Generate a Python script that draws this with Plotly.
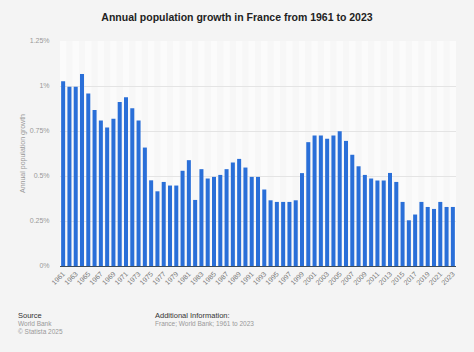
import plotly.graph_objects as go

years = list(range(1961, 2024))
growth = [1.027, 0.996, 0.996, 1.066, 0.959, 0.866, 0.809, 0.770, 0.818, 0.911,
          0.937, 0.877, 0.809, 0.658, 0.476, 0.415, 0.467, 0.447, 0.447, 0.529,
          0.588, 0.367, 0.538, 0.486, 0.495, 0.506, 0.538, 0.575, 0.595, 0.547,
          0.495, 0.495, 0.425, 0.365, 0.356, 0.356, 0.356, 0.365, 0.516, 0.688,
          0.725, 0.725, 0.707, 0.725, 0.749, 0.695, 0.618, 0.554, 0.506, 0.486,
          0.475, 0.475, 0.517, 0.467, 0.356, 0.254, 0.286, 0.356, 0.328, 0.317,
          0.356, 0.328, 0.328]
y_tickvals = [0, 0.25, 0.5, 0.75, 1.0, 1.25]
y_ticktext = ["0%", "0.25%", "0.5%", "0.75%", "1%", "1.25%"]
x_ticks = [str(y) for y in years[::2]]

FONT = "Liberation Sans, Arial, sans-serif"

fig = go.Figure()
fig.add_trace(go.Bar(
    x=[str(y) for y in years], y=growth,
    marker=dict(color="#2a6fd8", line=dict(width=0)),
    hovertemplate="%{x}: %{y:.2f}%<extra></extra>",
))

# alternating vertical background stripes
shapes = []
for i, yr in enumerate(years):
    if i % 2 == 0:
        shapes.append(dict(type="rect", xref="x", yref="paper",
                           x0=i - 0.5, x1=i + 0.5, y0=0, y1=1,
                           fillcolor="#ffffff", opacity=0.55, line=dict(width=0),
                           layer="below"))

L, R, T, B = 60, 18, 41, 86
W = 474 - L - R
H = 352 - T - B

def to_paper(xpix, ypix):
    return (xpix - L) / W, (352 - B - ypix) / H

ann = []
for text, xpix, ypix, color, size in [
    ("Source", 16, 315, "#333333", 7.5),
    ("World Bank", 16, 323.5, "#999999", 6.5),
    ("© Statista 2025", 16, 331.5, "#999999", 6.5),
    ("Additional Information:", 153, 315, "#333333", 7.5),
    ("France; World Bank; 1961 to 2023", 153, 323.5, "#999999", 6.5),
]:
    xp, yp = to_paper(xpix, ypix)
    ann.append(dict(text=text, x=xp, y=yp, xref="paper", yref="paper",
                    xanchor="left", yanchor="middle", showarrow=False,
                    font=dict(family=FONT, size=size, color=color)))

fig.update_layout(
    width=474, height=352,
    margin=dict(l=L, r=R, t=T, b=B),
    paper_bgcolor="#f4f4f4",
    plot_bgcolor="#f7f7f7",
    bargap=0.36,
    showlegend=False,
    shapes=shapes,
    annotations=ann,
    title=dict(text="<b>Annual population growth in France from 1961 to 2023</b>",
               x=0.5, xanchor="center", y=0.952, yanchor="middle",
               font=dict(family=FONT, size=10.5, color="#222222")),
    font=dict(family=FONT, size=7, color="#777777"),
    xaxis=dict(
        type="category", tickmode="array", tickvals=x_ticks, ticktext=x_ticks,
        tickangle=-45, tickfont=dict(size=7, color="#777777"),
        showgrid=False, showline=True, linecolor="#3a4a5a", linewidth=1,
        range=[-0.5, len(years) - 0.5], ticks="", fixedrange=True,
    ),
    yaxis=dict(
        range=[0, 1.25], tickvals=y_tickvals, ticktext=y_ticktext,
        tickfont=dict(size=7, color="#999999"),
        showgrid=True, gridcolor="#e4e4e4", gridwidth=1,
        zeroline=False, ticks="outside", ticklen=8, tickcolor="rgba(0,0,0,0)",
        title=dict(text="Annual population growth", font=dict(size=7, color="#999999"),
                   standoff=3),
    ),
)

fig.write_html("out.html", config={"displayModeBar": False})
